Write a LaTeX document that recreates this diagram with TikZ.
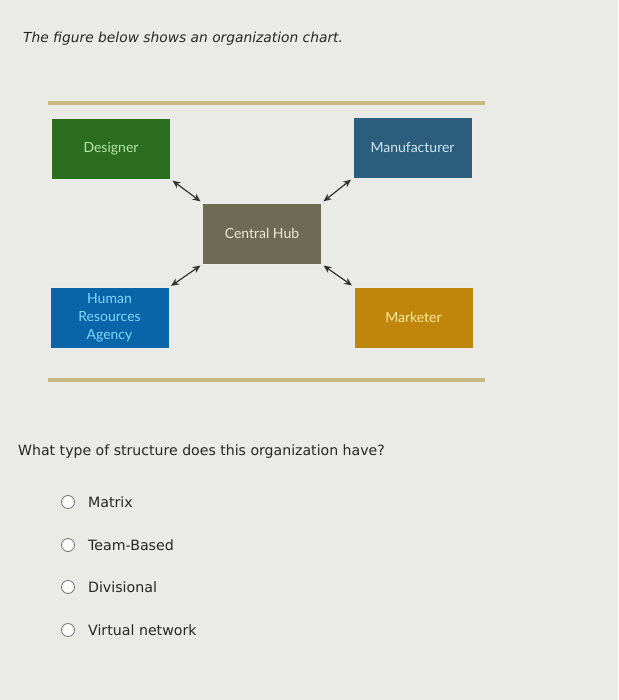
\documentclass[tikz,border=0pt]{standalone}
\usepackage{fontspec}
\setmainfont{DejaVu Sans}
\newfontfamily\boxfont{Lato}
\usetikzlibrary{positioning,arrows.meta}
\definecolor{paper}{RGB}{234,234,231}
\definecolor{rulecol}{RGB}{200,186,128}
\definecolor{desgreen}{RGB}{44,110,32}
\definecolor{manblue}{RGB}{42,94,124}
\definecolor{hubgrey}{RGB}{110,106,84}
\definecolor{hrblue}{RGB}{10,100,168}
\definecolor{mktgold}{RGB}{192,134,12}
\begin{document}
\begin{tikzpicture}[x=1pt,y=-1pt,
  unit/.style={minimum width=119pt,minimum height=61pt,inner sep=2pt,align=center,
    draw=white!85!gray,line width=0.8pt,font=\boxfont\fontsize{14}{18}\selectfont},
  link/.style={{Stealth[length=8pt,width=7pt]}-{Stealth[length=8pt,width=7pt]},line width=1.2pt,black!80,shorten >=2pt,shorten <=2pt},
  radio/.style={circle,draw=gray!90!black,fill=white!96!gray,line width=0.8pt,minimum size=13pt,inner sep=0pt},
  answer/.style={anchor=west,inner sep=0pt,font=\fontsize{14.2}{17}\selectfont,text=black!85}]
\useasboundingbox (0,0) rectangle (618,700);
\fill[paper] (0,0) rectangle (618,700);
\node[anchor=west,inner sep=0pt,font=\itshape\fontsize{13.8}{16}\selectfont,text=black!85] (title) at (23,39) {The figure below shows an organization chart.};
% chart frame
\draw[rulecol,line width=3.5pt] (48,103) -- (485,103);
\draw[rulecol,line width=3.5pt] (48,380) -- (485,380);
% units
\node[unit,fill=desgreen,text={rgb,255:red,184;green,230;blue,160}] (des) at (111,148.5) {Designer};
\node[unit,fill=manblue,text={rgb,255:red,210;green,230;blue,245}] (man) at (412.5,147.5) {Manufacturer};
\node[unit,fill=hubgrey,text={rgb,255:red,236;green,232;blue,212}] (hub) at (262,233.5) {Central Hub};
\node[unit,fill=hrblue,text={rgb,255:red,130;green,215;blue,255}] (hr) at (109.5,318) {Human\\Resources\\Agency};
\node[unit,fill=mktgold,text={rgb,255:red,255;green,236;blue,160}] (mkt) at (413.5,317.5) {Marketer};
\draw[link] (des.south east) -- (hub.north west);
\draw[link] (man.south west) -- (hub.north east);
\draw[link] (hr.north east) -- (hub.south west);
\draw[link] (mkt.north west) -- (hub.south east);
% question
\node[anchor=west,inner sep=0pt,font=\fontsize{14.1}{17}\selectfont,text=black!85] (quest) at (18,452) {What type of structure does this organization have?};
\node[radio] (r1) at (68,502) {};
\node[radio] (r2) at (68,545) {};
\node[radio] (r3) at (68,587) {};
\node[radio] (r4) at (68,630) {};
\node[answer,right=13pt of r1] (a1) {Matrix};
\node[answer,right=13pt of r2] (a2) {Team-Based};
\node[answer,right=13pt of r3] (a3) {Divisional};
\node[answer,right=13pt of r4] (a4) {Virtual network};
\end{tikzpicture}
\end{document}
